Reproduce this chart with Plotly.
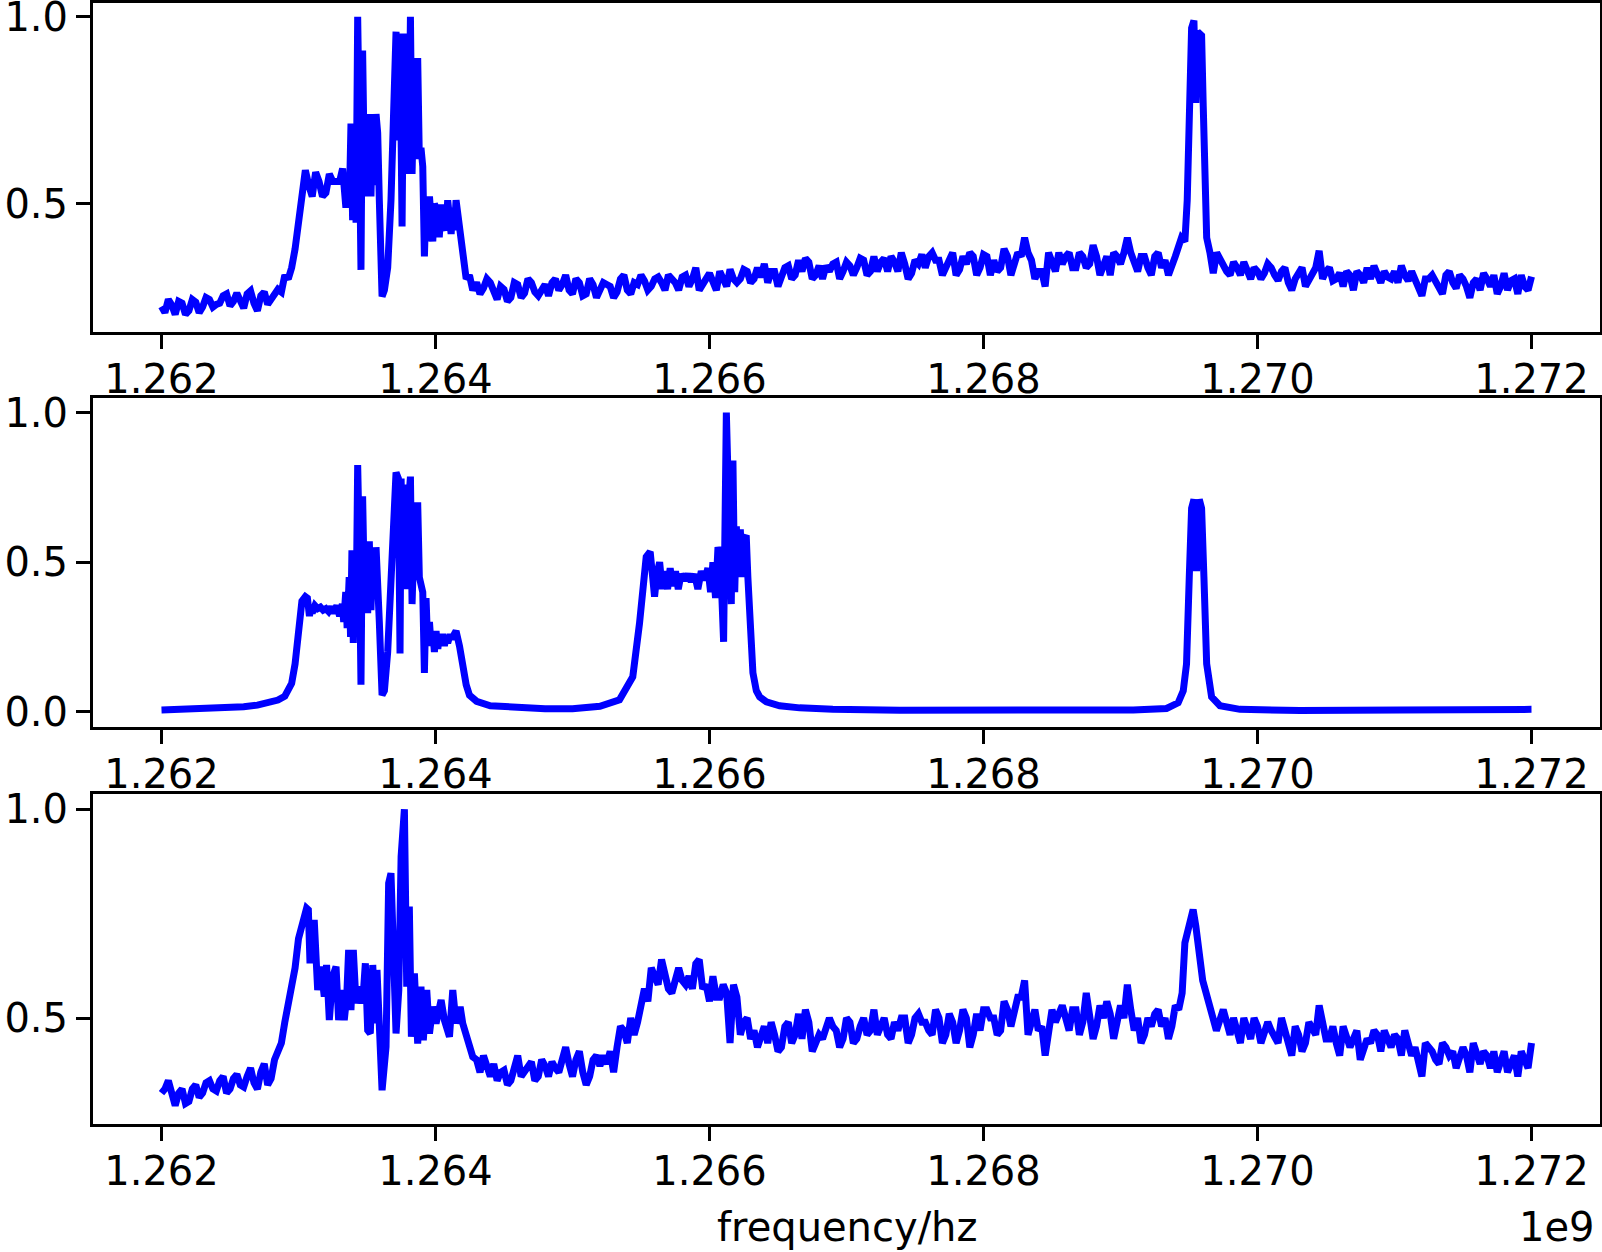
import plotly.graph_objects as go

# ---------------- data (frequency offsets in MHz from 1262 MHz) ----------------
F0_MHZ = 1262.0
GRID_STEP = 0.05
HALF = 0.025

# --- series 1 (top panel) ---
s1_a_start = 0.00
s1_a_vals = [0.226, 0.245, 0.205, 0.235, 0.215, 0.238, 0.225, 0.245, 0.232, 0.255, 0.228, 0.262, 0.222,
             0.268, 0.215, 0.265, 0.248, 0.272, 0.31, 0.33, 0.44, 0.59, 0.52, 0.56, 0.53, 0.56]
s1_a_mid = [0.21, 0.23, 0.24, 0.205, 0.245, 0.21, 0.25, 0.225, 0.235, 0.26, 0.24, 0.235, 0.26, 0.235, 0.255,
            0.232, 0.26, 0.265, 0.30, 0.38, 0.52, 0.55, 0.585, 0.52, 0.58]
s1_b_freq = [1.300, 1.322, 1.346, 1.359, 1.371, 1.383, 1.395, 1.407, 1.420, 1.432, 1.444, 1.456, 1.468, 1.481,
             1.493, 1.505, 1.517, 1.529, 1.542, 1.554, 1.566, 1.578, 1.590, 1.610, 1.627, 1.651, 1.675, 1.700,
             1.712, 1.732, 1.741, 1.756, 1.768, 1.780, 1.792, 1.804, 1.817, 1.829, 1.846, 1.858, 1.870, 1.882,
             1.894, 1.907, 1.919, 1.931, 1.943, 1.956, 1.968, 1.980, 1.992, 2.004, 2.017, 2.029, 2.041, 2.053,
             2.065, 2.077, 2.089, 2.102, 2.114, 2.126, 2.138, 2.150, 2.163, 2.175, 2.199, 2.224, 2.248, 2.272]
s1_b_vals = [0.56, 0.595, 0.49, 0.58, 0.50, 0.715, 0.457, 0.715, 0.45, 1.0, 0.70, 0.324, 0.91, 0.58, 0.715,
             0.52, 0.74, 0.52, 0.74, 0.55, 0.74, 0.69, 0.51, 0.253, 0.27, 0.33, 0.51, 0.87, 0.96, 0.67, 0.955,
             0.44, 0.955, 0.78, 0.94, 0.58, 1.0, 0.58, 0.87, 0.69, 0.89, 0.62, 0.65, 0.60, 0.36, 0.51, 0.40,
             0.52, 0.43, 0.40, 0.50, 0.49, 0.42, 0.42, 0.49, 0.49, 0.44, 0.43, 0.51, 0.44, 0.42, 0.49, 0.43,
             0.51, 0.47, 0.42, 0.35, 0.30, 0.31, 0.27]
s1_c_start = 2.30
s1_c_vals = [0.29, 0.275, 0.29, 0.245, 0.272, 0.25, 0.285, 0.262, 0.29, 0.255, 0.285, 0.29, 0.27, 0.31, 0.26,
             0.29, 0.26, 0.285, 0.27,
             0.285, 0.25, 0.30, 0.27, 0.29, 0.31, 0.27, 0.30, 0.29, 0.31, 0.29, 0.305, 0.28, 0.33, 0.29, 0.315,
             0.27, 0.30, 0.325, 0.29,
             0.325, 0.29, 0.33, 0.34, 0.32, 0.28, 0.33, 0.30, 0.35, 0.355, 0.30, 0.335, 0.335, 0.34, 0.30, 0.345,
             0.31, 0.355, 0.31, 0.36,
             0.345, 0.32, 0.345, 0.37, 0.30, 0.35, 0.365, 0.36, 0.35, 0.31, 0.35, 0.31, 0.36, 0.37, 0.31, 0.365,
             0.31, 0.32, 0.38, 0.31,
             0.37, 0.41, 0.35, 0.32, 0.28, 0.34, 0.37, 0.36, 0.33, 0.37, 0.33, 0.39, 0.31, 0.36, 0.37, 0.34,
             0.41, 0.34, 0.36, 0.33, 0.36, 0.33, 0.31, 0.36]
s1_c_mid = [0.26, 0.30, 0.265, 0.28, 0.24, 0.29, 0.25, 0.30, 0.265, 0.27, 0.255, 0.30, 0.285, 0.27, 0.30, 0.255,
            0.30, 0.25,
            0.29, 0.28, 0.265, 0.31, 0.26, 0.285, 0.295, 0.28, 0.305, 0.27, 0.30, 0.27, 0.31, 0.30, 0.27, 0.30,
            0.285, 0.32, 0.28, 0.30,
            0.30, 0.32, 0.30, 0.305, 0.29, 0.32, 0.30, 0.335, 0.31, 0.32, 0.345, 0.31, 0.30, 0.32, 0.345, 0.32,
            0.335, 0.33, 0.35, 0.32,
            0.32, 0.355, 0.36, 0.32, 0.34, 0.315, 0.34, 0.33, 0.37, 0.35, 0.33, 0.37, 0.325, 0.34, 0.36, 0.33,
            0.36, 0.35, 0.33, 0.36,
            0.35, 0.36, 0.37, 0.30, 0.32, 0.37, 0.32, 0.34, 0.37, 0.33, 0.36, 0.34, 0.36, 0.33, 0.31, 0.36,
            0.37, 0.37, 0.32, 0.36, 0.31, 0.37, 0.35, 0.33]
s1_d_freq = [7.445, 7.470, 7.487, 7.502, 7.519, 7.536, 7.550, 7.563, 7.580, 7.592, 7.604, 7.616, 7.629, 7.653,
             7.677, 7.702]
s1_d_vals = [0.41, 0.40, 0.51, 0.78, 0.97, 0.99, 0.77, 0.96, 0.955, 0.95, 0.76, 0.555, 0.41, 0.37, 0.315, 0.37]
s1_e_start = 7.75
s1_e_vals = [0.335, 0.31, 0.33, 0.345, 0.30, 0.32, 0.315, 0.33, 0.296, 0.33, 0.27, 0.32, 0.28, 0.32, 0.375,
             0.32, 0.295, 0.316, 0.32, 0.27, 0.31, 0.33, 0.335, 0.29, 0.305, 0.32, 0.335, 0.295, 0.30, 0.255,
             0.30, 0.29, 0.26, 0.32, 0.275, 0.30, 0.25, 0.30, 0.315, 0.28, 0.26, 0.315, 0.295, 0.26, 0.28, 0.306]
s1_e_mid = [0.32, 0.345, 0.31, 0.32, 0.33, 0.30, 0.34, 0.31, 0.32, 0.29, 0.30, 0.33, 0.30, 0.33, 0.30, 0.33,
            0.30, 0.28, 0.31, 0.32, 0.29, 0.30, 0.31, 0.32, 0.30, 0.29, 0.31, 0.32, 0.28, 0.30, 0.31, 0.28,
            0.31, 0.29, 0.31, 0.28, 0.29, 0.27, 0.30, 0.31, 0.28, 0.27, 0.30, 0.31, 0.27]

# --- series 2 (middle panel) ---
s2_a_freq = [0.00, 0.20, 0.40, 0.60, 0.70, 0.80, 0.85, 0.90, 0.95, 0.975, 1.00, 1.025, 1.05, 1.065, 1.08, 1.09,
             1.10, 1.12, 1.14, 1.16, 1.18, 1.20, 1.22, 1.24, 1.26, 1.28, 1.30]
s2_a_vals = [0.006, 0.008, 0.011, 0.017, 0.022, 0.030, 0.039, 0.052, 0.095, 0.16, 0.27, 0.37, 0.385, 0.38, 0.32,
             0.35, 0.33, 0.355, 0.345, 0.35, 0.34, 0.345, 0.335, 0.35, 0.33, 0.355, 0.32]
s2_b_freq = [1.32, 1.33, 1.345, 1.355, 1.37, 1.38, 1.39, 1.40, 1.41, 1.42, 1.432, 1.444, 1.456, 1.468, 1.481,
             1.493, 1.505, 1.517, 1.529, 1.542, 1.554, 1.566, 1.578, 1.590, 1.610, 1.627, 1.651, 1.675, 1.700,
             1.712, 1.729, 1.741, 1.749, 1.761, 1.780, 1.792, 1.804, 1.817, 1.829, 1.846, 1.858, 1.870, 1.882,
             1.894, 1.907, 1.919, 1.931, 1.943, 1.956, 1.968, 1.980, 1.992, 2.004, 2.017, 2.029, 2.041, 2.053,
             2.065, 2.077, 2.089, 2.102, 2.126, 2.150, 2.175, 2.199, 2.224, 2.248]
s2_b_vals = [0.36, 0.30, 0.40, 0.28, 0.45, 0.25, 0.54, 0.23, 0.52, 0.30, 0.825, 0.55, 0.09, 0.72, 0.40,
             0.55, 0.33, 0.57, 0.34, 0.55, 0.38, 0.55, 0.45, 0.30, 0.056, 0.07, 0.20, 0.45, 0.70, 0.80,
             0.78, 0.195, 0.78, 0.50, 0.76, 0.41, 0.70, 0.786, 0.36, 0.62, 0.55, 0.70, 0.45, 0.42, 0.40,
             0.13, 0.38, 0.22, 0.30, 0.22, 0.27, 0.20, 0.27, 0.21, 0.26, 0.22, 0.26, 0.22, 0.25, 0.23,
             0.25, 0.25, 0.27, 0.22, 0.15, 0.09, 0.055]
s2_c_freq = [2.30, 2.40, 2.60, 2.80, 3.00, 3.10, 3.20]
s2_c_vals = [0.035, 0.02, 0.013, 0.01, 0.01, 0.012, 0.018]
s2_d_freq = [3.343, 3.440, 3.489, 3.538, 3.567, 3.587, 3.599, 3.616, 3.636, 3.655, 3.674, 3.694, 3.713, 3.733,
             3.752, 3.772, 3.793, 3.818, 3.842, 3.866, 3.891, 3.915, 3.940, 3.964, 3.988, 4.008, 4.025, 4.044,
             4.062, 4.079, 4.103, 4.123, 4.142, 4.159, 4.171, 4.184, 4.196, 4.210, 4.225, 4.240, 4.254, 4.268,
             4.280, 4.297, 4.317, 4.342, 4.366, 4.415, 4.512, 4.658, 4.900, 5.388, 6.119, 6.849]
s2_d_vals = [0.04, 0.117, 0.295, 0.518, 0.535, 0.42, 0.385, 0.46, 0.50, 0.41, 0.47, 0.41, 0.48, 0.42,
             0.47, 0.41, 0.46, 0.44, 0.46, 0.435, 0.46, 0.41, 0.47, 0.44, 0.48, 0.40, 0.50, 0.38,
             0.55, 0.52, 0.234, 1.0, 0.55, 0.36, 0.84, 0.40, 0.62, 0.45, 0.61, 0.45, 0.58, 0.59,
             0.45, 0.26, 0.13, 0.07, 0.05, 0.033, 0.02, 0.013, 0.008, 0.005, 0.004, 0.005]
s2_e_freq = [7.093, 7.336, 7.421, 7.458, 7.482, 7.502, 7.519, 7.536, 7.555, 7.575, 7.592, 7.609, 7.629, 7.665,
             7.726, 7.872, 8.310, 9.040, 10.00]
s2_e_vals = [0.006, 0.011, 0.030, 0.07, 0.16, 0.45, 0.68, 0.71, 0.47, 0.71, 0.68, 0.45, 0.16, 0.05,
             0.02, 0.008, 0.004, 0.006, 0.008]

# --- series 3 (bottom panel) ---
s3_a_start = 0.00
s3_a_vals = [0.32, 0.35, 0.29, 0.33, 0.30, 0.34, 0.32, 0.35, 0.325, 0.36, 0.33, 0.365, 0.335, 0.38, 0.33, 0.39,
             0.355, 0.42, 0.49, 0.575, 0.69]
s3_a_mid = [0.33, 0.31, 0.32, 0.295, 0.33, 0.31, 0.345, 0.33, 0.35, 0.32, 0.355, 0.34, 0.36, 0.345, 0.37, 0.34,
            0.40, 0.44, 0.53, 0.62]
s3_b_freq = [1.042, 1.059, 1.072, 1.084, 1.099, 1.116, 1.140, 1.164, 1.188, 1.205, 1.225, 1.249, 1.274, 1.293,
             1.310, 1.334, 1.352, 1.366, 1.383, 1.400, 1.420, 1.444, 1.468, 1.488, 1.505, 1.524, 1.542, 1.559,
             1.573, 1.590, 1.610, 1.639, 1.658, 1.675, 1.692, 1.712, 1.732, 1.749, 1.773, 1.790, 1.809, 1.824,
             1.846, 1.870, 1.894, 1.911, 1.936, 1.956, 1.980, 2.004, 2.041, 2.065, 2.102, 2.126, 2.150, 2.180,
             2.199, 2.236, 2.272]
s3_b_vals = [0.743, 0.763, 0.759, 0.631, 0.727, 0.727, 0.567, 0.623, 0.551, 0.627, 0.495, 0.599, 0.623, 0.495,
             0.567, 0.495, 0.551, 0.663, 0.519, 0.663, 0.535, 0.575, 0.535, 0.631, 0.471, 0.463, 0.627, 0.487,
             0.615, 0.439, 0.327, 0.431, 0.823, 0.847, 0.647, 0.463, 0.567, 0.887, 1.0, 0.575, 0.767, 0.455,
             0.607, 0.439, 0.575, 0.447, 0.567, 0.463, 0.527, 0.487, 0.543, 0.495, 0.455, 0.567, 0.487, 0.527,
             0.487, 0.439, 0.407]
s3_c_start = 2.30
s3_c_vals = [0.40, 0.41, 0.36, 0.35, 0.375, 0.35, 0.41, 0.37, 0.395, 0.36, 0.385, 0.395, 0.37, 0.43, 0.36, 0.42,
             0.34, 0.40, 0.385,
             0.39, 0.37, 0.48, 0.44, 0.46, 0.535, 0.54, 0.60, 0.64, 0.57, 0.59, 0.59, 0.60, 0.63, 0.57, 0.54,
             0.55, 0.58, 0.44, 0.55,
             0.49, 0.45, 0.43, 0.48, 0.49, 0.42, 0.48, 0.44, 0.51, 0.52, 0.42, 0.46, 0.48, 0.48, 0.43, 0.50,
             0.44, 0.48, 0.46, 0.52,
             0.48, 0.46, 0.49, 0.50, 0.44, 0.50, 0.49, 0.47, 0.52, 0.44, 0.51, 0.44, 0.52, 0.43, 0.51, 0.52,
             0.50, 0.46, 0.54, 0.48,
             0.55, 0.59, 0.50, 0.47, 0.41, 0.52, 0.51, 0.50, 0.52, 0.46, 0.56, 0.45, 0.53, 0.54, 0.45, 0.53,
             0.58, 0.47, 0.44, 0.50, 0.51, 0.48, 0.45, 0.53, 0.56]
s3_c_mid = [0.37, 0.38, 0.39, 0.37, 0.34, 0.38, 0.36, 0.38, 0.35, 0.40, 0.36, 0.38, 0.40, 0.39, 0.40, 0.37,
            0.36, 0.41,
            0.41, 0.42, 0.43, 0.47, 0.50, 0.49, 0.57, 0.62, 0.58, 0.61, 0.56, 0.62, 0.58, 0.57, 0.64, 0.58,
            0.60, 0.55, 0.56, 0.58,
            0.46, 0.50, 0.47, 0.45, 0.44, 0.46, 0.43, 0.49, 0.46, 0.45, 0.49, 0.44, 0.45, 0.50, 0.47, 0.45,
            0.49, 0.45, 0.50, 0.47,
            0.46, 0.50, 0.45, 0.47, 0.50, 0.46, 0.51, 0.49, 0.46, 0.50, 0.46, 0.49, 0.47, 0.50, 0.46, 0.47,
            0.52, 0.50, 0.47, 0.52,
            0.52, 0.55, 0.46, 0.52, 0.48, 0.47, 0.49, 0.53, 0.47, 0.52, 0.49, 0.51, 0.48, 0.50, 0.51, 0.49,
            0.50, 0.52, 0.50, 0.46, 0.48, 0.52, 0.50, 0.48, 0.52]
s3_d_freq = [7.47, 7.50, 7.53, 7.55, 7.57, 7.60, 7.65, 7.70]
s3_d_vals = [0.68, 0.73, 0.76, 0.72, 0.66, 0.59, 0.53, 0.47]
s3_e_start = 7.75
s3_e_vals = [0.52, 0.46, 0.47, 0.50, 0.45, 0.48, 0.47, 0.47, 0.44, 0.47, 0.41, 0.46, 0.44, 0.47, 0.53, 0.45,
             0.48, 0.41, 0.46, 0.45, 0.40, 0.45, 0.47, 0.42, 0.45, 0.46, 0.41, 0.44, 0.43, 0.36, 0.43, 0.40,
             0.44, 0.41, 0.38, 0.43, 0.37, 0.41, 0.42, 0.38, 0.37, 0.42, 0.39, 0.36, 0.40, 0.44]
s3_e_mid = [0.49, 0.50, 0.44, 0.47, 0.50, 0.44, 0.49, 0.45, 0.50, 0.45, 0.48, 0.42, 0.49, 0.46, 0.49, 0.45,
            0.44, 0.48, 0.43, 0.47, 0.43, 0.44, 0.46, 0.47, 0.43, 0.45, 0.47, 0.41, 0.40, 0.44, 0.42, 0.39,
            0.43, 0.42, 0.40, 0.41, 0.44, 0.39, 0.41, 0.42, 0.40, 0.37, 0.41, 0.42, 0.38]

tick_vals_ghz = [1.262, 1.264, 1.266, 1.268, 1.270, 1.272]
tick_text = ["1.262", "1.264", "1.266", "1.268", "1.270", "1.272"]


# ---------------- assemble ----------------
def grid_seg(start, vals):
    return [(start + GRID_STEP * i, v) for i, v in enumerate(vals)]


def pts(freq, vals):
    return list(zip(freq, vals))


def to_xy(parts):
    allp = []
    for p in parts:
        allp.extend(p)
    allp.sort(key=lambda t: t[0])
    xs = [(F0_MHZ + f) * 1e6 for f, _ in allp]
    ys = [v for _, v in allp]
    return xs, ys


x1, y1 = to_xy([grid_seg(s1_a_start, s1_a_vals), grid_seg(s1_a_start + HALF, s1_a_mid),
                pts(s1_b_freq, s1_b_vals),
                grid_seg(s1_c_start, s1_c_vals), grid_seg(s1_c_start + HALF, s1_c_mid),
                pts(s1_d_freq, s1_d_vals),
                grid_seg(s1_e_start, s1_e_vals), grid_seg(s1_e_start + HALF, s1_e_mid)])
x2, y2 = to_xy([pts(s2_a_freq, s2_a_vals), pts(s2_b_freq, s2_b_vals), pts(s2_c_freq, s2_c_vals),
                pts(s2_d_freq, s2_d_vals), pts(s2_e_freq, s2_e_vals)])
x3, y3 = to_xy([grid_seg(s3_a_start, s3_a_vals), grid_seg(s3_a_start + HALF, s3_a_mid),
                pts(s3_b_freq, s3_b_vals),
                grid_seg(s3_c_start, s3_c_vals), grid_seg(s3_c_start + HALF, s3_c_mid),
                pts(s3_d_freq, s3_d_vals),
                grid_seg(s3_e_start, s3_e_vals), grid_seg(s3_e_start + HALF, s3_e_mid)])

W, H = 1602, 1252
FONT = "DejaVu Sans"
FS = 40
LINE = dict(color="#0000ff", width=7)

fig = go.Figure()
fig.add_trace(go.Scatter(x=x1, y=y1, mode="lines", line=LINE, xaxis="x", yaxis="y", showlegend=False))
fig.add_trace(go.Scatter(x=x2, y=y2, mode="lines", line=LINE, xaxis="x2", yaxis="y2", showlegend=False))
fig.add_trace(go.Scatter(x=x3, y=y3, mode="lines", line=LINE, xaxis="x3", yaxis="y3", showlegend=False))

xdom = [93 / W, 1600 / W]


def ydom(top_px, bot_px):
    return [1 - bot_px / H, 1 - top_px / H]


common = dict(showgrid=False, zeroline=False, showline=True, mirror=True, linecolor="black", linewidth=3,
              ticks="outside", ticklen=14, tickwidth=3, tickcolor="black", automargin=False,
              ticklabeloverflow="allow",
              tickfont=dict(family=FONT, size=FS, color="black"))

xax = dict(domain=xdom, range=[1.2615e9, 1.2725e9], tickmode="array", ticklabelstandoff=-4,
           tickvals=[v * 1e9 for v in tick_vals_ghz], ticktext=tick_text, **common)

layout = dict(
    width=W, height=H, autosize=False,
    margin=dict(l=0, r=0, t=0, b=0, pad=0, autoexpand=False),
    paper_bgcolor="white", plot_bgcolor="white",
    font=dict(family=FONT, size=FS, color="black"),
    xaxis=dict(anchor="y", **xax),
    xaxis2=dict(anchor="y2", **xax),
    xaxis3=dict(anchor="y3", **xax),
    yaxis=dict(anchor="x", domain=ydom(2.7, 331.7), range=[0.159, 1.0375], tickmode="array",
               tickvals=[0.5, 1.0], ticktext=["0.5", "1.0"], **common),
    yaxis2=dict(anchor="x2", domain=ydom(398.3, 726.7), range=[-0.050, 1.048], tickmode="array",
                tickvals=[0.0, 0.5, 1.0], ticktext=["0.0", "0.5", "1.0"], **common),
    yaxis3=dict(anchor="x3", domain=ydom(794, 1123.5), range=[0.2473, 1.0367], tickmode="array",
                tickvals=[0.5, 1.0], ticktext=["0.5", "1.0"], **common),
    annotations=[
        dict(text="frequency/hz", xref="paper", yref="paper", x=(xdom[0] + xdom[1]) / 2, y=1 - 1227 / H,
             xanchor="center", yanchor="middle", showarrow=False, font=dict(family=FONT, size=FS, color="black")),
        dict(text="1e9", xref="paper", yref="paper", x=1597 / W, y=1 - 1227 / H,
             xanchor="right", yanchor="middle", showarrow=False, font=dict(family=FONT, size=FS, color="black")),
    ],
)
fig.update_layout(**layout)
fig.write_html("out.html")
